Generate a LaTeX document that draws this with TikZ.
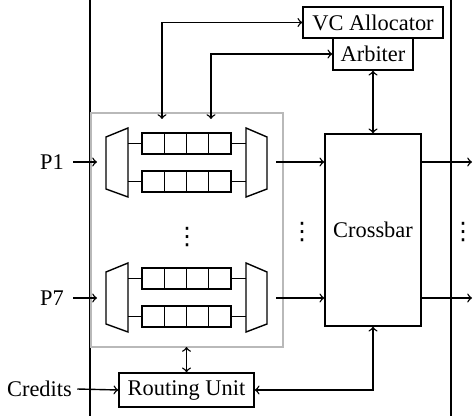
\documentclass[tikz,border=0pt]{standalone}
\usepackage{fontspec}
\setmainfont{Liberation Serif}
\newfontfamily\dejavu{DejaVu Sans}
\tikzset{
  px/.style={x=0.5pt,y=-0.5pt},
  ln/.style={line width=0.7pt,draw=black},
  boxn/.style={draw=black,line width=0.7pt,inner sep=0pt,font=\fontsize{11.2}{13}\selectfont},
  lbl/.style={inner sep=0pt,font=\fontsize{11.2}{13}\selectfont},
  dots/.style={inner sep=0pt,font=\dejavu\fontsize{12}{13}\selectfont},
  cell/.style={draw=black,line width=0.7pt,minimum width=11.125pt,minimum height=10.5pt,inner sep=0pt},
  arr/.style={->,line width=0.7pt},
  barr/.style={<->,line width=0.7pt},
}
\begin{document}
\begin{tikzpicture}[px]
\useasboundingbox (0,0) rectangle (474,416);
% frame lines
\draw[ln] (90,0) coordinate (lt) -- (90,416) coordinate (lb);
\draw[ln] (451,0) coordinate (rt) -- (451,416) coordinate (rb);
% gray box
\draw[gray!55,line width=0.6pt] (91,113) coordinate (g1) rectangle (283,347) coordinate (g2);
% top boxes
\node[boxn,minimum width=70pt,minimum height=15.5pt] (vca) at (373,22.5) {VC Allocator};
\node[boxn,minimum width=40pt,minimum height=16pt] (arb) at (373,54) {Arbiter};
\node[boxn,minimum width=48pt,minimum height=96pt] (xbar) at (373,230) {Crossbar};
\node[boxn,minimum width=67.5pt,minimum height=17pt] (ru) at (186.5,390) {Routing Unit};
% input units
\foreach \o/\n in {0/1,135/2}{
  \draw[ln,line join=miter] (106,137+\o) -- (128,128+\o) -- (128,197+\o) -- (106,189+\o) -- cycle;
  \draw[ln,line join=miter] (246,128+\o) -- (267,137+\o) -- (267,189+\o) -- (246,197+\o) -- cycle;
  \foreach \r/\yy in {a/143.5,b/181.5}{
    \foreach \k in {0,1,2,3}{
      \node[cell] (c\n\r\k) at (153.125+22.25*\k,\yy+\o) {};
    }
    \draw[ln] (128,\yy+\o) -- (c\n\r0.west);
    \draw[ln] (c\n\r3.east) -- (246,\yy+\o);
  }
}
% inputs
\node[lbl] (p1) at (52,162) {P1};
\node[lbl] (p7) at (52,298) {P7};
\node[lbl] (cr) at (39.5,389) {Credits};
\coordinate (i1) at (97,162);
\coordinate (i7) at (97,298);
\draw[arr] (p1.east) ++(9,0) -- (i1);
\draw[arr] (p7.east) ++(9,0) -- (i7);
\draw[arr] (cr.east) ++(5,0) -- (ru.west);
% outputs of input units to crossbar
\coordinate (o1) at (276,162);
\coordinate (o7) at (276,298);
\draw[arr] (o1) -- (o1 -| xbar.west);
\draw[arr] (o7) -- (o7 -| xbar.west);
% crossbar outputs
\coordinate (e1) at (472,162);
\coordinate (e7) at (472,298);
\draw[arr] (e1 -| xbar.east) -- (e1);
\draw[arr] (e7 -| xbar.east) -- (e7);
% allocator connections
\coordinate (v1) at (162,119);
\coordinate (a1) at (211,119);
\draw[barr] (v1) |- (vca.west);
\draw[barr] (a1) |- (arb.west);
\draw[barr] (arb.south) -- (arb.south |- xbar.north);
% routing unit
\coordinate (gb) at (186.5,347);
\draw[barr] (gb) -- (ru.north);
\draw[barr] (xbar.south) |- (ru.east);
% dots
\node[dots] (d1) at (187,237) {⋮};
\node[dots] (d2) at (302,232) {⋮};
\node[dots] (d3) at (463,232) {⋮};
\end{tikzpicture}
\end{document}
